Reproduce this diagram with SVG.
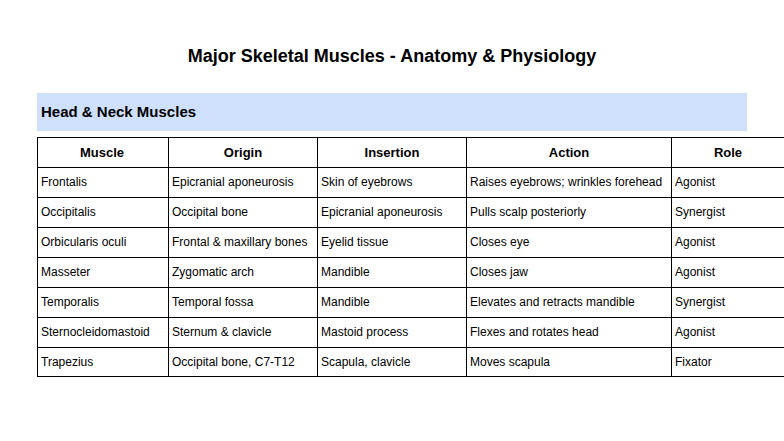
<svg xmlns="http://www.w3.org/2000/svg" width="784" height="441" viewBox="0 0 784 441">
<style>
text{font-family:"Liberation Sans",Arial,sans-serif;fill:#000}
.t{font-size:18px;font-weight:bold}
.s{font-size:15px;font-weight:bold}
.h{font-size:13px;font-weight:bold;text-anchor:middle}
.c{font-size:12px}
line{stroke:#000;stroke-width:1}
</style>
<rect width="784" height="441" fill="#fff"/>
<text class="t" x="392" y="62" text-anchor="middle">Major Skeletal Muscles - Anatomy &amp; Physiology</text>
<rect x="37" y="93" width="710" height="38" fill="#cfe0fc"/>
<text class="s" x="41" y="117">Head &amp; Neck Muscles</text>
<g id="table">
<rect x="37.5" y="137.5" width="760" height="239" fill="none" stroke="#000"/>
<line x1="168.5" y1="137" x2="168.5" y2="377"/>
<line x1="317.5" y1="137" x2="317.5" y2="377"/>
<line x1="466.5" y1="137" x2="466.5" y2="377"/>
<line x1="671.5" y1="137" x2="671.5" y2="377"/>
<line x1="37" y1="167.5" x2="784" y2="167.5"/>
<line x1="37" y1="197.5" x2="784" y2="197.5"/>
<line x1="37" y1="227.5" x2="784" y2="227.5"/>
<line x1="37" y1="257.5" x2="784" y2="257.5"/>
<line x1="37" y1="287.5" x2="784" y2="287.5"/>
<line x1="37" y1="317.5" x2="784" y2="317.5"/>
<line x1="37" y1="347.5" x2="784" y2="347.5"/>
<text class="h" x="102" y="157">Muscle</text>
<text class="h" x="243" y="157">Origin</text>
<text class="h" x="392" y="157">Insertion</text>
<text class="h" x="569" y="157">Action</text>
<text class="h" x="728" y="157">Role</text>
<g class="c">
<text class="c" x="41" y="186">Frontalis</text><text class="c" x="172" y="186">Epicranial aponeurosis</text><text class="c" x="321" y="186">Skin of eyebrows</text><text class="c" x="470" y="186">Raises eyebrows; wrinkles forehead</text><text class="c" x="675" y="186">Agonist</text>
<text class="c" x="41" y="216">Occipitalis</text><text class="c" x="172" y="216">Occipital bone</text><text class="c" x="321" y="216">Epicranial aponeurosis</text><text class="c" x="470" y="216">Pulls scalp posteriorly</text><text class="c" x="675" y="216">Synergist</text>
<text class="c" x="41" y="246">Orbicularis oculi</text><text class="c" x="172" y="246">Frontal &amp; maxillary bones</text><text class="c" x="321" y="246">Eyelid tissue</text><text class="c" x="470" y="246">Closes eye</text><text class="c" x="675" y="246">Agonist</text>
<text class="c" x="41" y="276">Masseter</text><text class="c" x="172" y="276">Zygomatic arch</text><text class="c" x="321" y="276">Mandible</text><text class="c" x="470" y="276">Closes jaw</text><text class="c" x="675" y="276">Agonist</text>
<text class="c" x="41" y="306">Temporalis</text><text class="c" x="172" y="306">Temporal fossa</text><text class="c" x="321" y="306">Mandible</text><text class="c" x="470" y="306">Elevates and retracts mandible</text><text class="c" x="675" y="306">Synergist</text>
<text class="c" x="41" y="336">Sternocleidomastoid</text><text class="c" x="172" y="336">Sternum &amp; clavicle</text><text class="c" x="321" y="336">Mastoid process</text><text class="c" x="470" y="336">Flexes and rotates head</text><text class="c" x="675" y="336">Agonist</text>
<text class="c" x="41" y="366">Trapezius</text><text class="c" x="172" y="366">Occipital bone, C7-T12</text><text class="c" x="321" y="366">Scapula, clavicle</text><text class="c" x="470" y="366">Moves scapula</text><text class="c" x="675" y="366">Fixator</text>
</g>
</g>
</svg>
